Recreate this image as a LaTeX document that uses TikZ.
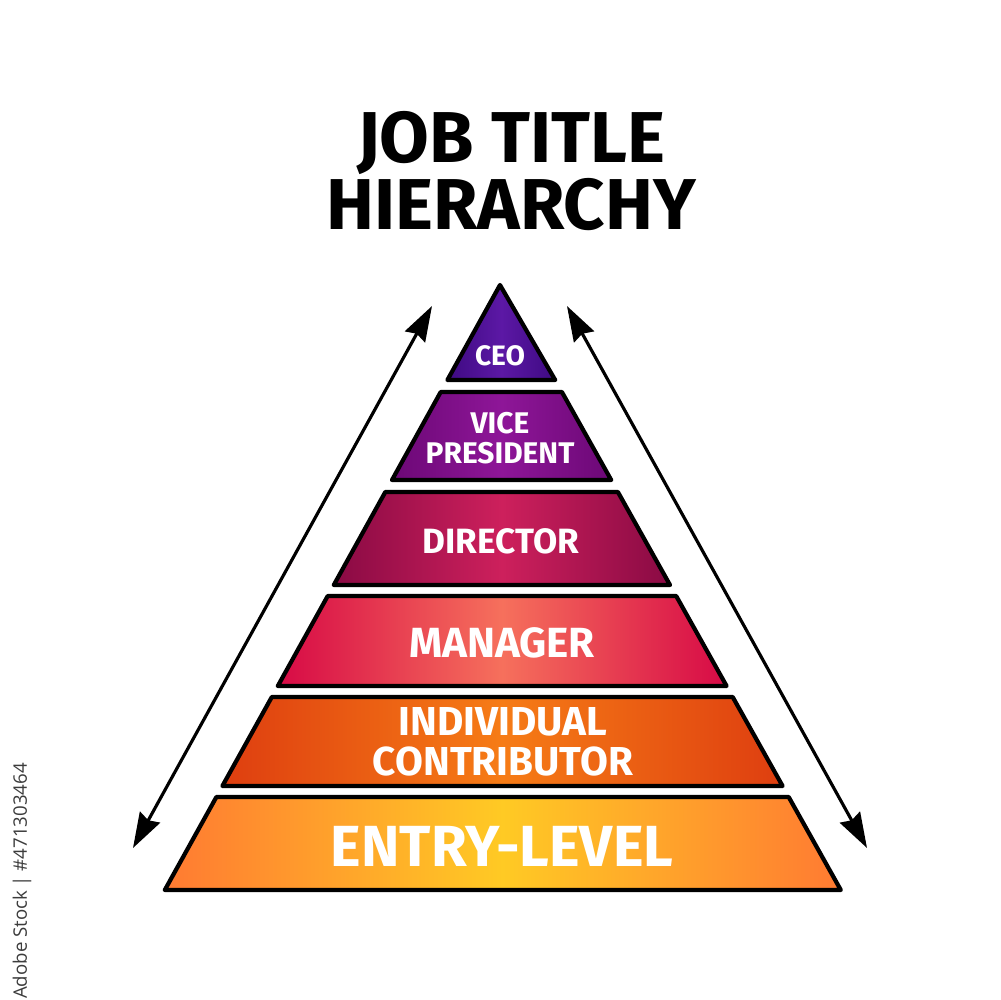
\documentclass[tikz,border=0pt]{standalone}
\usepackage{fontspec}
\setmainfont{Fira Sans}
\newfontfamily\sidefont{Open Sans}
\usetikzlibrary{arrows.meta}
\definecolor{ceoE}{RGB}{62,10,130}
\definecolor{ceoM}{RGB}{92,24,165}
\definecolor{vpE}{RGB}{108,8,118}
\definecolor{vpM}{RGB}{142,22,152}
\definecolor{dirE}{RGB}{138,10,68}
\definecolor{dirM}{RGB}{205,32,92}
\definecolor{manE}{RGB}{215,10,70}
\definecolor{manM}{RGB}{246,112,92}
\definecolor{icE}{RGB}{222,62,16}
\definecolor{icM}{RGB}{246,124,22}
\definecolor{enE}{RGB}{255,122,50}
\definecolor{enM}{RGB}{255,202,36}
\begin{document}
\begin{tikzpicture}[x=0.1mm,y=-0.1mm,
  layerline/.style={draw=black,line width=1.2pt,line join=round},
  layertext/.style={text=white,font=\bfseries,align=center,inner sep=0pt},
  dblarrow/.style={line width=0.9pt,{Stealth[length=10pt,width=6.5pt,inset=1pt]}-{Stealth[length=10pt,width=6.5pt,inset=1pt]}}
]
\useasboundingbox[fill=white] (0,0) rectangle (1000,1000);

% title
\node[inner sep=0pt,font=\fontsize{20.5}{18}\selectfont\bfseries,align=center] (title) at (511,171) {JOB TITLE\\HIERARCHY};

% layers
\shade[left color=ceoE,right color=ceoE,middle color=ceoM] (500,285) -- (555.2,380) -- (447.4,380) -- cycle;
\draw[layerline] (500,285) -- (555.2,380) -- (447.4,380) -- cycle;

\shade[left color=vpE,right color=vpE,middle color=vpM] (440.7,392) -- (561.9,392) -- (611.2,480) -- (392.0,480) -- cycle;
\draw[layerline] (440.7,392) -- (561.9,392) -- (611.2,480) -- (392.0,480) -- cycle;

\shade[left color=dirE,right color=dirE,middle color=dirM] (385.3,492) -- (617.9,492) -- (670.0,585) -- (333.8,585) -- cycle;
\draw[layerline] (385.3,492) -- (617.9,492) -- (670.0,585) -- (333.8,585) -- cycle;

\shade[left color=manE,right color=manE,middle color=manM] (327.7,596) -- (676.2,596) -- (726.6,686) -- (277.8,686) -- cycle;
\draw[layerline] (327.7,596) -- (676.2,596) -- (726.6,686) -- (277.8,686) -- cycle;

\shade[left color=icE,right color=icE,middle color=icM] (271.8,697) -- (732.7,697) -- (782.6,786) -- (222.4,786) -- cycle;
\draw[layerline] (271.8,697) -- (732.7,697) -- (782.6,786) -- (222.4,786) -- cycle;

\shade[left color=enE,right color=enE,middle color=enM] (216.4,797) -- (788.7,797) -- (840.8,890) -- (164.8,890) -- cycle;
\draw[layerline] (216.4,797) -- (788.7,797) -- (840.8,890) -- (164.8,890) -- cycle;

% labels
\node[layertext,font=\fontsize{8}{9}\selectfont\bfseries] (ceo) at (500,356) {CEO};
\node[layertext,font=\fontsize{8.5}{8.6}\selectfont\bfseries] (vp) at (500,438) {VICE\\PRESIDENT};
\node[layertext,font=\fontsize{10}{11}\selectfont\bfseries] (dir) at (501,541) {DIRECTOR};
\node[layertext,font=\fontsize{12}{13}\selectfont\bfseries] (man) at (502,643) {MANAGER};
\node[layertext,font=\fontsize{11.5}{11.4}\selectfont\bfseries] (ic) at (503,742) {INDIVIDUAL\\CONTRIBUTOR};
\node[layertext,font=\fontsize{16.5}{18}\selectfont\bfseries] (entry) at (502,846) {ENTRY-LEVEL};

% arrows
\coordinate (lt) at (432,306);
\coordinate (lb) at (133,848);
\coordinate (rt) at (567,306);
\coordinate (rb) at (867,848);
\draw[dblarrow] (lt) -- (lb);
\draw[dblarrow] (rt) -- (rb);

% side credit
\node[rotate=90,inner sep=0pt,text={rgb,255:red,60;green,60;blue,60},font=\fontsize{5.3}{6}\selectfont\sidefont] (credit) at (22,881) {Adobe Stock | \#471303464};
\end{tikzpicture}
\end{document}
